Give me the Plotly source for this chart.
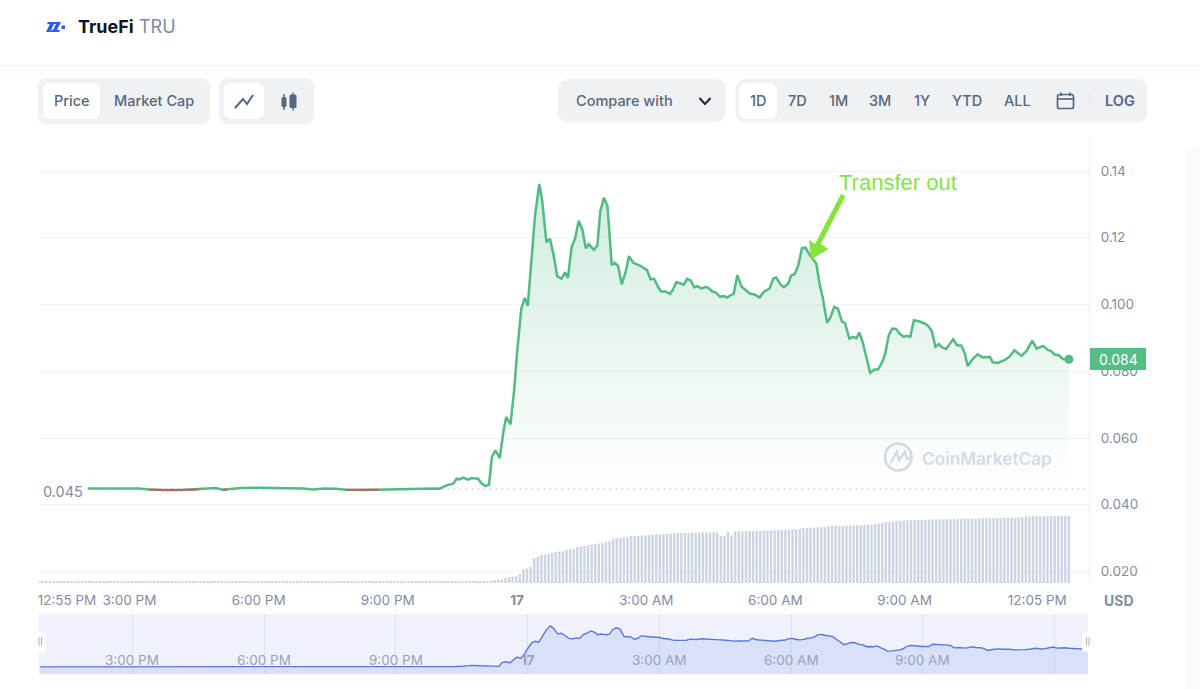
import pandas as pd
import plotly.graph_objects as go

W, H = 1200, 689

# minutes since first price point of the session
flat_minutes = [0, 15, 32, 55, 70, 85, 105, 130, 155, 170, 178, 188, 195, 213, 240, 265, 300, 314, 330, 345,
                360, 385, 405, 425, 445, 462, 470, 482]
flat_prices = [.0449, .0449, .0451, .0450, .0449, .0446, .0444, .0444, .0446, .0449, .0450, .0445, .0446, .0450,
               .0451, .0450, .0449, .0446, .0449, .0448, .0445, .0444, .0445, .0447, .0448, .0448, .0450, .0449]
rise_minutes = [490, 500, 509, 514, 518, 523, 530, 534, 544, 548, 554, 559, 563, 568, 574, 579, 583, 589, 594, 598,
                604, 609, 613, 618, 623, 629, 633, 639, 644, 649, 654, 660, 665, 669, 674, 679, 684, 689, 694, 698,
                705, 710, 714, 719, 724, 730, 734, 739, 744, 750, 754, 760, 764, 770, 775, 779, 784, 789, 795, 799,
                805, 811, 815, 820, 826, 830, 835, 840, 845, 849, 855, 861, 865, 870, 875, 881, 886, 891, 895, 900,
                905, 911, 917, 922, 929, 936]
rise_prices = [.0448, .0458, .0463, .0478, .0476, .0481, .0475, .0480, .0478, .0465, .0456, .0460, .0543, .0563,
               .0540, .0618, .0663, .0641, .0743, .0853, .0988, .1020, .0996, .1123, .1263, .1361, .1313, .1186,
               .1197, .1148, .1085, .1077, .1096, .1080, .1171, .1198, .1251, .1225, .1168, .1181, .1164, .1177,
               .1278, .1320, .1296, .1118, .1125, .1115, .1060, .1103, .1145, .1125, .1121, .1116, .1108, .1104,
               .1076, .1077, .1051, .1039, .1039, .1032, .1043, .1067, .1063, .1059, .1077, .1072, .1051, .1055,
               .1048, .1052, .1049, .1039, .1036, .1023, .1025, .1021, .1027, .1032, .1088, .1053, .1043, .1033,
               .1030, .1021]
fall_minutes = [942, 950, 955, 959, 966, 970, 976, 980, 985, 990, 995, 1000, 1006, 1015, 1020, 1024, 1030, 1035,
                1040, 1045, 1051, 1055, 1061, 1066, 1071, 1075, 1080, 1086, 1090, 1096, 1101, 1107, 1111, 1116,
                1121, 1126, 1131, 1137, 1141, 1146, 1151, 1159, 1167, 1172, 1176, 1181, 1186, 1191, 1196, 1202,
                1206, 1211, 1217, 1222, 1226, 1233, 1240, 1247, 1257, 1261, 1268, 1277, 1284, 1291, 1301, 1308,
                1316, 1322, 1331, 1338, 1342, 1347, 1353, 1359, 1367]
fall_prices = [.1038, .1048, .1078, .1081, .1058, .1052, .1063, .1087, .1091, .1118, .1168, .1170, .1148, .1123,
               .1058, .1021, .0945, .0963, .0993, .0988, .0948, .0945, .0898, .0903, .0899, .0916, .0885, .0833,
               .0795, .0805, .0805, .0828, .0853, .0908, .0928, .0927, .0913, .0903, .0906, .0903, .0953, .0949,
               .0942, .0933, .0920, .0873, .0881, .0871, .0867, .0885, .0896, .0878, .0877, .0853, .0816, .0837,
               .0851, .0841, .0843, .0827, .0825, .0833, .0843, .0863, .0846, .0861, .0892, .0868, .0876, .0863,
               .0861, .0850, .0848, .0836, .0836]

# 24h volume per 5 minute bar, in millions
volume_flat = [1.5] * 121
volume = volume_flat + [
    1.5, 1.6, 1.7, 1.8, 2, 2.5, 3, 3, 3.5, 5, 6, 6.5, 7, 9, 14, 14.5, 16, 25, 26, 28, 28.5, 29, 30, 31, 31.5, 32,
    33, 33.5, 34, 36, 36.5, 37, 38, 38.5, 39, 39.5, 40, 41, 41.7, 44, 44.7, 45, 45.5, 46, 47, 47, 47.2, 47.5, 47.7,
    48, 48.3, 48.7, 48.7, 49, 49, 49.3, 49.5, 50, 50, 50.1, 50.2, 50.3, 50.4, 50.5, 50.5, 50.6, 50.6,
    50.7, 50.7, 47, 47, 51, 47.5, 51.7, 51.8, 51.9, 52, 52, 52.1, 52.2, 52.3, 52.4, 52.5, 52.7, 52.7, 52.8, 53, 53,
    53.2, 53.5, 53.8, 54, 55, 55, 55.3, 55.5, 55.8, 56, 56.3, 56.7, 57, 57, 57.2, 57.2, 57.4, 57.5, 57.6, 57.7, 57.8,
    57.9, 58, 58.5, 59, 59.5, 60.3, 61, 61.3, 61.6, 62, 62.2, 62.5, 62.7, 62.9, 63, 63.1, 63.2, 63.3, 63.4, 63.5,
    63.5, 63.6, 63.7, 63.8, 63.9, 64, 64, 64.1, 64.2, 64.3, 64.4, 64.5, 64.6, 64.7, 64.8, 64.9, 65, 65, 65.1, 65.2,
    65.3, 65.4, 65.5, 65.6, 65.7, 66.7, 66.7, 66.8, 66.8, 66.8, 66.9, 66.9, 66.9, 67, 67, 67, 67, 67]

price_ticks = [.02, .04, .06, .08, .10, .12, .14]
price_labels = ['0.020', '0.040', '0.060', '0.080', '0.100', '0.12', '0.14']
time_ticks = ['2022-03-16 13:33', '2022-03-16 15:00', '2022-03-16 18:00', '2022-03-16 21:00', '2022-03-17 00:00',
              '2022-03-17 03:00', '2022-03-17 06:00', '2022-03-17 09:00', '2022-03-17 12:05']
time_labels = ['12:55 PM', '3:00 PM', '6:00 PM', '9:00 PM', '<b>17</b>', '3:00 AM', '6:00 AM', '9:00 AM', '12:05 PM']
nav_ticks = ['2022-03-16 15:00', '2022-03-16 18:00', '2022-03-16 21:00', '2022-03-17 00:00',
             '2022-03-17 03:00', '2022-03-17 06:00', '2022-03-17 09:00']
nav_labels = ['3:00 PM', '6:00 PM', '9:00 PM', '<b>17</b>', '3:00 AM', '6:00 AM', '9:00 AM']
nav_grid_extra = ['2022-03-17 12:00']
open_price = 0.0447

minutes = flat_minutes + rise_minutes + fall_minutes
prices = flat_prices + rise_prices + fall_prices
start = pd.Timestamp('2022-03-16 14:02')
times = [start + pd.Timedelta(minutes=m) for m in minutes]
bar_times = pd.date_range(start - pd.Timedelta(minutes=68), periods=len(volume), freq='5min')
below = [p if p < open_price and m < 480 else None for m, p in zip(minutes, prices)]
nav_times = [bar_times[0]] + times

GREEN = '#52ba82'
GREY = '#58667e'
AXIS_GREY = '#858ca2'
FONT = 'Inter'


def fx(x):
    return x / W


def fy(y):
    return 1 - y / H


def rrect(x0, y0, x1, y1, r, color, layer='below', line=None):
    p = (f'M {fx(x0 + r)} {fy(y0)} L {fx(x1 - r)} {fy(y0)} Q {fx(x1)} {fy(y0)} {fx(x1)} {fy(y0 + r)} '
         f'L {fx(x1)} {fy(y1 - r)} Q {fx(x1)} {fy(y1)} {fx(x1 - r)} {fy(y1)} L {fx(x0 + r)} {fy(y1)} '
         f'Q {fx(x0)} {fy(y1)} {fx(x0)} {fy(y1 - r)} L {fx(x0)} {fy(y0 + r)} Q {fx(x0)} {fy(y0)} {fx(x0 + r)} {fy(y0)} Z')
    return dict(type='path', path=p, xref='paper', yref='paper', fillcolor=color,
                line=line if line else dict(width=0), layer=layer)


def poly(points, fill=None, line=None, width=0, close=True, layer='above'):
    p = 'M ' + ' L '.join(f'{fx(x)} {fy(y)}' for x, y in points) + (' Z' if close else '')
    return dict(type='path', path=p, xref='paper', yref='paper', fillcolor=fill if fill else 'rgba(0,0,0,0)',
                line=dict(color=line if line else 'rgba(0,0,0,0)', width=width), layer=layer)


def note(x, y, text, size=14.5, color=GREY, weight=500, family=FONT, anchor='center'):
    return dict(x=fx(x), y=fy(y), xref='paper', yref='paper', text=text, showarrow=False, xanchor=anchor,
                yanchor='middle', font=dict(family=family, size=size, color=color, weight=weight))


fig = go.Figure()
fig.add_trace(go.Bar(x=bar_times, y=volume, xaxis='x', yaxis='y2', marker=dict(color='#cdd4e2', line_width=0)))
# baseline trace, the area fills up to the price line from here
fig.add_trace(go.Scatter(x=times, y=[open_price] * len(times), mode='lines', line=dict(width=0), hoverinfo='skip'))
fig.add_trace(go.Scatter(
    x=times, y=prices, mode='lines', line=dict(color=GREEN, width=2.5), fill='tonexty',
    fillgradient=dict(type='vertical', start=open_price, stop=0.136,
                      colorscale=[[0, 'rgba(82,186,130,0)'], [1, 'rgba(82,186,130,0.27)']])))
fig.add_trace(go.Scatter(x=times, y=below, mode='lines', line=dict(color='#c8584c', width=2), opacity=0.85))
fig.add_trace(go.Scatter(x=[times[0], times[-1] + pd.Timedelta(minutes=28)], y=[open_price, open_price], mode='lines',
                         line=dict(color='#8f96a3', width=1, dash='1px 5px')))
fig.add_trace(go.Scatter(x=[times[-1]], y=[prices[-1]], mode='markers', marker=dict(color=GREEN, size=9)))
fig.add_trace(go.Scatter(x=nav_times, y=[prices[0]] + prices, mode='lines', xaxis='x2', yaxis='y3',
                         line=dict(color='#5a78d8', width=1.4), fill='tozeroy', fillcolor='rgba(112,138,236,0.17)'))

y_per_px = 0.02 / 66.75


def price_at(y):
    return 0.14 - (y - 171) * y_per_px


shapes = [
    dict(type='rect', xref='paper', yref='paper', x0=0, x1=1, y0=fy(80), y1=fy(66), fillcolor='#fcfdfe',
         line_width=0, layer='below'),
    dict(type='line', xref='paper', yref='paper', x0=0, x1=1, y0=fy(65.5), y1=fy(65.5),
         line=dict(color='#eceef2', width=1.5), layer='below'),
    dict(type='rect', xref='paper', yref='paper', x0=fx(1186), x1=1, y0=0, y1=fy(148), fillcolor='#f8fafd',
         line_width=0, layer='below'),
    rrect(38, 78, 210, 124, 10, '#eff2f5'), rrect(43, 83, 100, 119, 8, '#ffffff'),
    rrect(219, 78, 314, 124, 10, '#eff2f5'), rrect(224, 83, 264, 119, 8, '#ffffff'),
    rrect(558, 79, 725.5, 122, 10, '#eff2f5'),
    rrect(735.5, 79, 1147.5, 122, 10, '#eff2f5'), rrect(739, 83, 777, 119, 8, '#ffffff'),
    # navigator background
    dict(type='rect', xref='paper', yref='paper', x0=fx(39), x1=fx(1088), y0=fy(674), y1=fy(614),
         fillcolor='#eff2fd', line_width=0, layer='below'),
    # line and candle icons
    poly([(235, 108), (243, 99), (247, 104), (253, 95)], line=GREY, width=2, close=False),
    poly([(284, 94), (284, 110)], line=GREY, width=1.5, close=False),
    poly([(293, 92.5), (293, 110.5)], line=GREY, width=1.5, close=False),
    rrect(281.5, 97, 286.5, 107, 1.5, GREY, 'above'), rrect(289.5, 94.5, 296.5, 108, 1.5, GREY, 'above'),
    # chevron, calendar, separator
    poly([(699.5, 98), (705, 104), (710.5, 98)], line='#222531', width=2, close=False),
    rrect(1057.5, 94.5, 1073.5, 108.5, 2, 'rgba(0,0,0,0)', 'above', dict(color=GREY, width=1.7)),
    poly([(1057.5, 99), (1073.5, 99)], line=GREY, width=1.7, close=False),
    poly([(1061, 92.5), (1061, 96)], line=GREY, width=1.7, close=False),
    poly([(1070, 92.5), (1070, 96)], line=GREY, width=1.7, close=False),
    poly([(1090, 93), (1090, 109)], line='#dfe3ea', width=1, close=False),
    # coin logo
    poly([(46, 32), (51, 22), (55, 22), (50, 32)], fill='#2b5cf0'),
    poly([(52, 32), (57, 22), (61, 22), (56, 32)], fill='#2b5cf0'),
    poly([(48, 22), (58, 22), (57, 24), (47, 24)], fill='#2b5cf0'),
    poly([(51, 30), (60, 30), (59, 32), (50, 32)], fill='#2b5cf0'),
    poly([(61.5, 25.5), (65, 25.5), (65, 29), (61.5, 29)], fill='#2b5cf0'),
    # last price tag
    dict(type='rect', xref='paper', yref='paper', x0=fx(1090), x1=fx(1146), y0=fy(370), y1=fy(348),
         fillcolor='#56bd86', line_width=0, layer='above'),
    # hand drawn arrow
    poly([(841, 194), (845.5, 196), (821, 244), (828.5, 249), (811, 259.5), (809, 240), (815, 244)], fill='#84e33f'),
    # watermark
    dict(type='circle', xref='paper', yref='paper', x0=fx(885), x1=fx(911.5), y0=fy(470.5), y1=fy(443.5),
         fillcolor='rgba(0,0,0,0)', line=dict(color='#d3d8e6', width=2.6), layer='above'),
    poly([(890.7, 463), (896.7, 451.7), (899, 460), (905, 451.7), (907, 459), (913, 456.7)], line='#d3d8e6', width=2.4,
         close=False),
    # navigator handles
    rrect(34, 632, 46, 653, 4, '#ffffff', 'above'), rrect(1082, 631, 1094, 652, 4, '#ffffff', 'above'),
    poly([(39, 637), (39, 646)], line='#a8afbd', width=1, close=False),
    poly([(41.5, 637), (41.5, 646)], line='#a8afbd', width=1, close=False),
    poly([(1086.5, 637), (1086.5, 646)], line='#a8afbd', width=1, close=False),
    poly([(1089, 637), (1089, 646)], line='#a8afbd', width=1, close=False),
]

annotations = [
    note(76, 27, 'TrueFi', size=18, color='#0d1421', weight=700, anchor='left'),
    note(137, 27, 'TRU', size=18, color='#808a9d', weight=400, anchor='left'),
    note(71.5, 100.5, 'Price'), note(154, 100.5, 'Market Cap'), note(624.5, 100.5, 'Compare with'),
    note(757.5, 101, '1D'), note(797, 101, '7D'), note(838, 101, '1M'), note(880, 101, '3M'),
    note(921.5, 101, '1Y'), note(967, 101, 'YTD'), note(1017, 101, 'ALL'),
    note(1119.5, 100.5, 'LOG', weight=600),
    note(898, 182.5, 'Transfer out', size=22, color='#86e34c', weight=400, family='Liberation Sans'),
    note(63, 491.5, '0.045', size=14.5, color='#858ca2', weight=400),
    note(1118, 359, '0.084', size=14, color='#ffffff', weight=400),
    note(920, 458, 'CoinMarketCap', size=17.2, color='#d5d9e6', weight=600, anchor='left'),
    note(1119, 600, 'USD', size=14, color='#858ca2', weight=700),
]
for t, label in zip(nav_ticks, nav_labels):
    annotations.append(dict(x=t, y=fy(660), xref='x2', yref='paper', text=label, showarrow=False, yanchor='middle',
                            font=dict(family=FONT, size=13.5, color='#9aa3b5')))

fig.update_layout(
    width=W, height=H, margin=dict(l=0, r=0, t=0, b=0), paper_bgcolor='white', plot_bgcolor='rgba(0,0,0,0)',
    showlegend=False, bargap=0.32, shapes=shapes, annotations=annotations, hovermode=False,
    font=dict(family=FONT),
    xaxis=dict(domain=[fx(39), fx(1089)], range=[bar_times[0], bar_times[0] + pd.Timedelta(minutes=1463)],
               tickmode='array', tickvals=time_ticks, ticktext=time_labels, showgrid=False, zeroline=False,
               showline=False, ticks='outside', ticklen=5, tickcolor='rgba(0,0,0,0)', anchor='y2',
               tickfont=dict(size=13.5, color=AXIS_GREY, family=FONT)),
    yaxis=dict(domain=[fy(583), fy(136)], range=[price_at(583), price_at(136)], side='right', anchor='x',
               tickmode='array', tickvals=price_ticks, ticktext=price_labels, gridcolor='#f1f3f6', gridwidth=1,
               zeroline=False, showline=True, linecolor='#eff1f4', ticks='outside', ticklen=8,
               tickcolor='rgba(0,0,0,0)', tickfont=dict(size=13.5, color=AXIS_GREY, family=FONT)),
    yaxis2=dict(domain=[fy(583), fy(516)], range=[0, 67], anchor='x', showgrid=False, zeroline=False,
                showticklabels=False),
    xaxis2=dict(domain=[fx(39), fx(1088)],
                range=[bar_times[0] - pd.Timedelta(minutes=1.5), bar_times[0] + pd.Timedelta(minutes=1431.5)],
                anchor='y3', tickmode='array', tickvals=nav_ticks + nav_grid_extra, showticklabels=False,
                gridcolor='#dde2f2', zeroline=False, ticks=''),
    yaxis3=dict(domain=[fy(674), fy(614)], range=[.029, .1628], anchor='x2', showgrid=False, zeroline=False,
                showticklabels=False),
)

fig.write_html('out.html', config=dict(displayModeBar=False), post_script="document.body.style.margin='0';")
